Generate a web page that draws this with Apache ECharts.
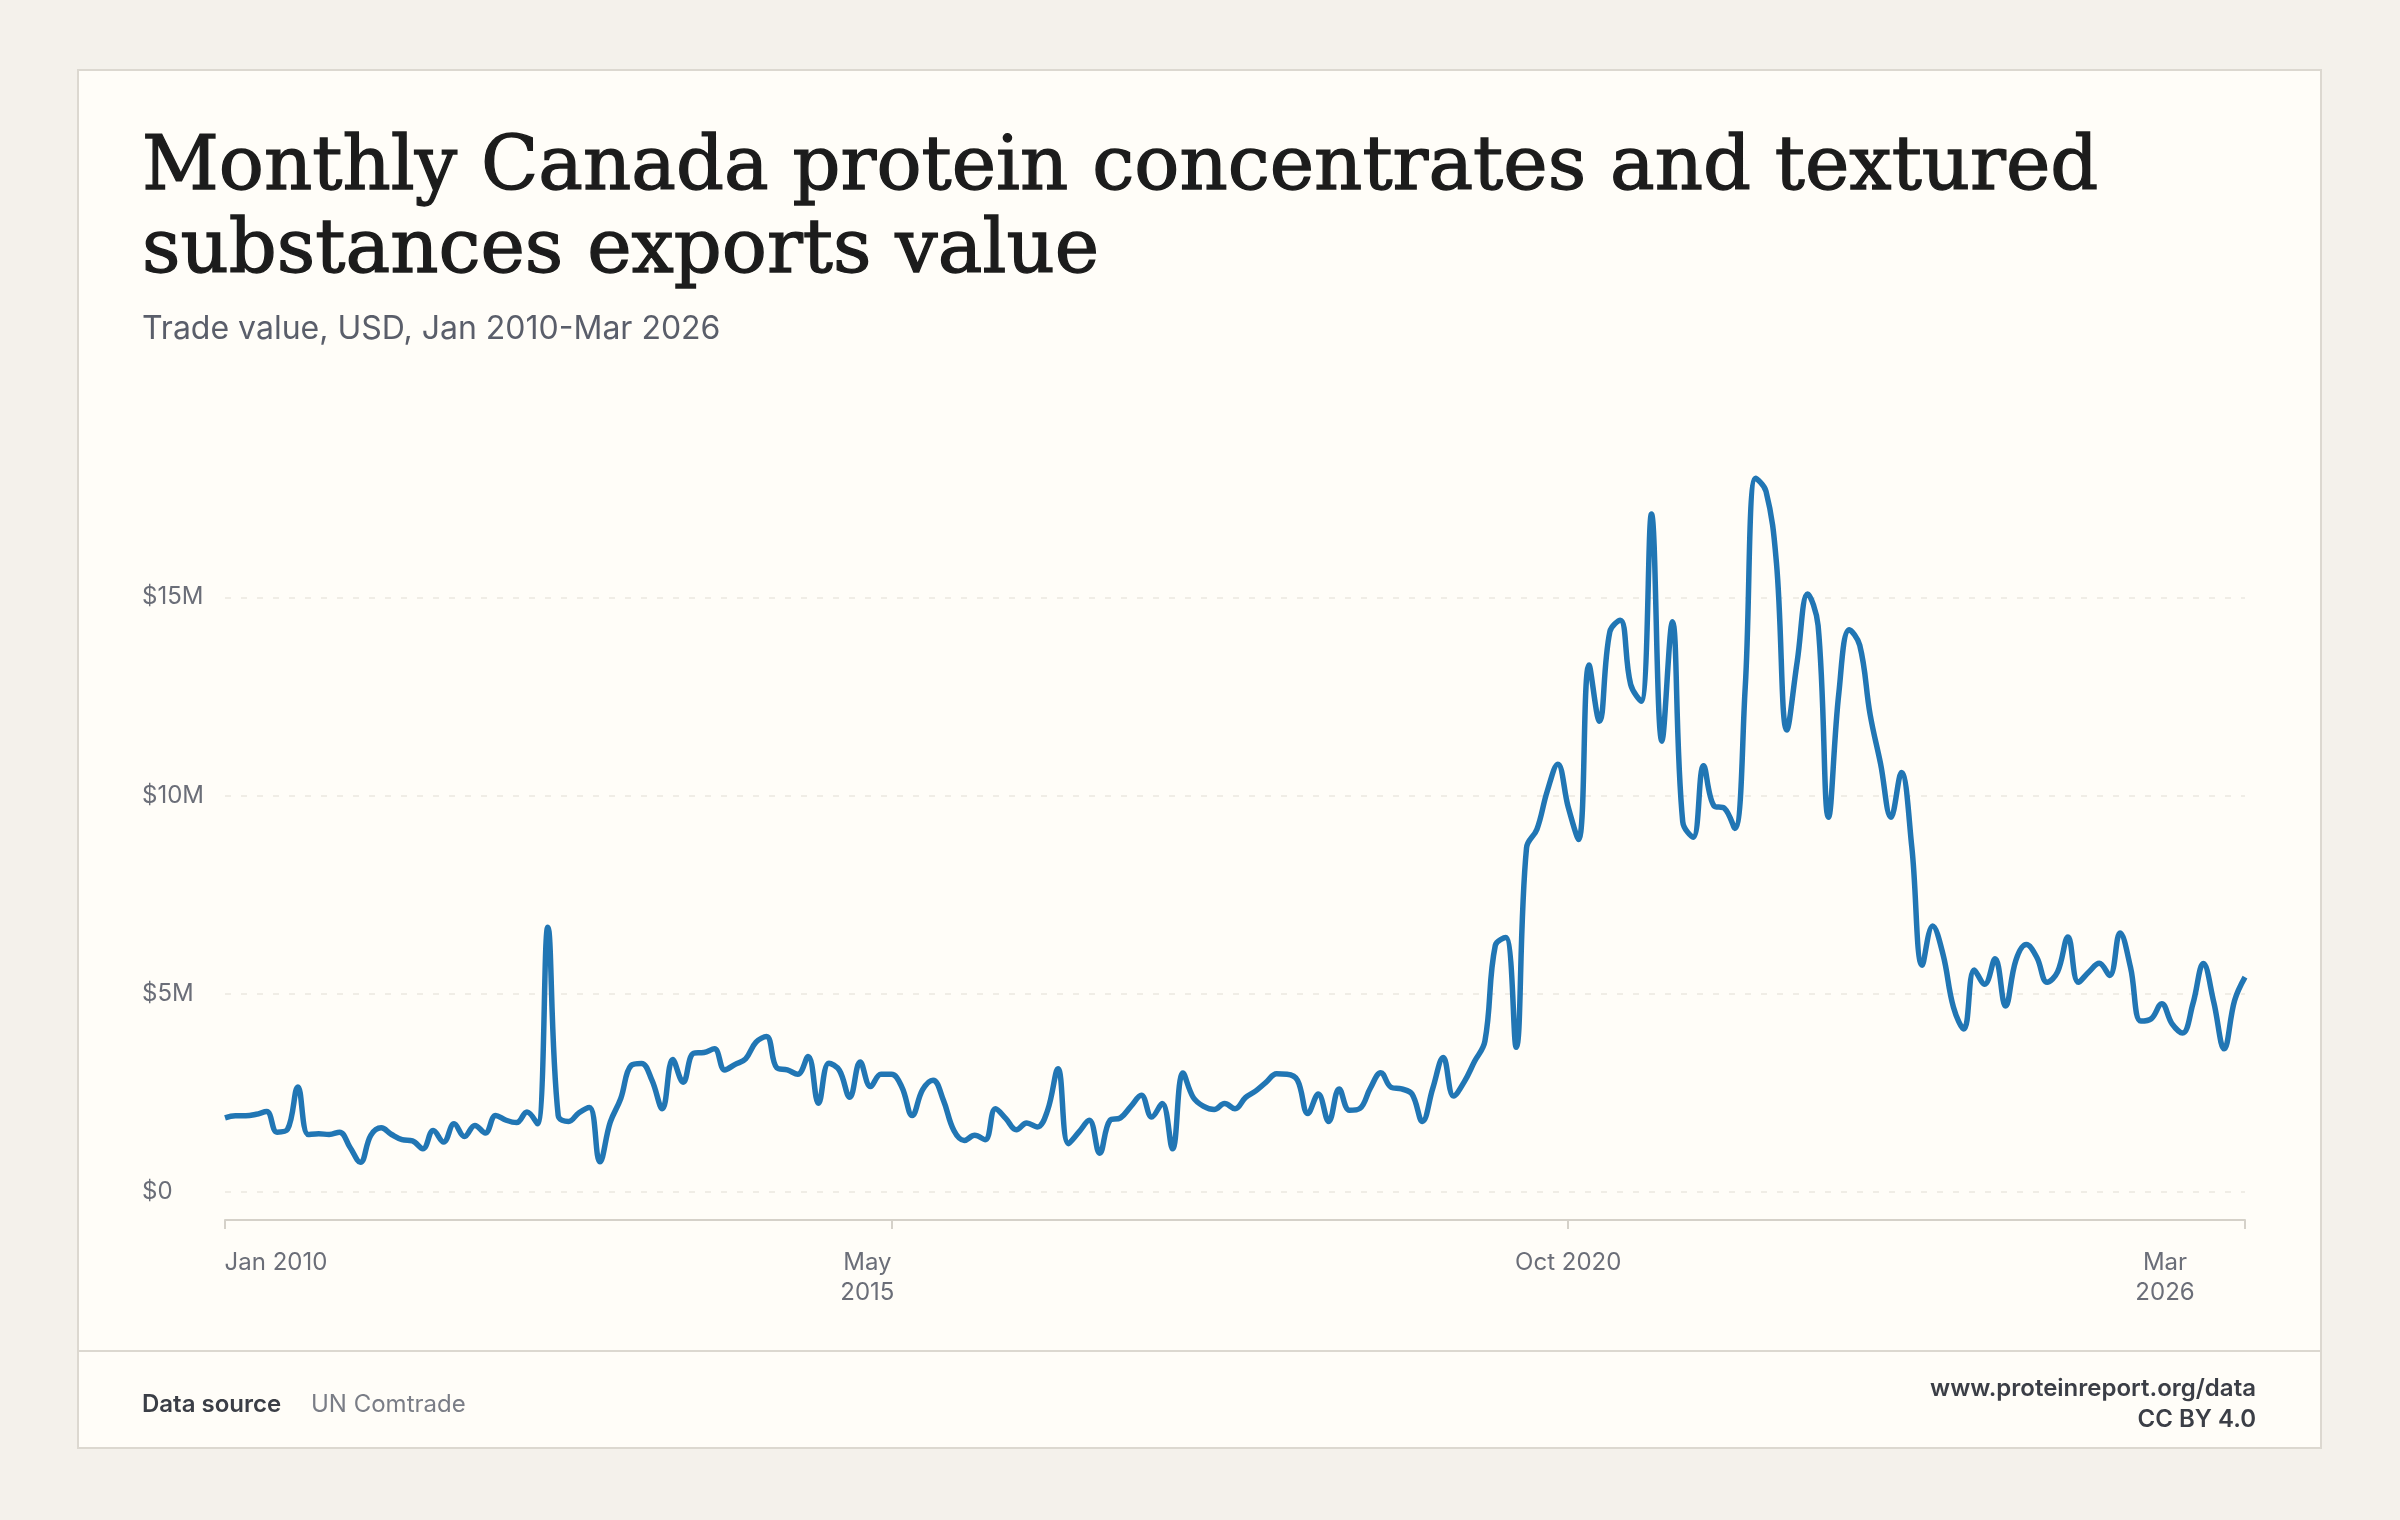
<!DOCTYPE html>
<html lang="en">
<head>
<meta charset="UTF-8">
<title>Monthly Canada protein concentrates and textured substances exports value</title>
<script src="https://cdn.jsdelivr.net/npm/echarts@6/dist/echarts.min.js"></script>
<style>
  html, body { margin: 0; padding: 0; background: #f4f1eb; }
  .card { position: absolute; left: 77px; top: 69px; width: 2245px; height: 1380px; box-sizing: border-box;
          background: #fffdf8; border: 2px solid #dcd8d0; }
  .divider { position: absolute; left: 0; right: 0; top: 1279px; border-top: 2px solid #dcd8d0; }
  #main { position: absolute; left: 0; top: 0; width: 2400px; height: 1520px; }
</style>
</head>
<body>
<div class="card"><div class="divider"></div></div>
<div id="main"></div>
<script>
// monthly trade value, $M, Jan 2010 .. Mar 2026
var values2010_2014 = [
  1.87, 1.92, 1.92, 1.96, 2.03, 1.51, 1.58, 2.65, 1.45, 1.47, 1.45, 1.51,
  1.13, 0.75, 1.43, 1.62, 1.45, 1.32, 1.29, 1.09, 1.55, 1.26, 1.72, 1.40,
  1.68, 1.49, 1.93, 1.81, 1.75, 2.02, 1.72, 6.68, 1.93, 1.78, 2.00, 2.13,
  0.76, 1.76, 2.35, 3.19, 3.24, 2.82, 2.10, 3.34, 2.77, 3.50, 3.52, 3.61,
  3.08, 3.22, 3.36, 3.78, 3.92, 3.13, 3.08, 2.97, 3.42, 2.24, 3.25, 3.07
];
var values2015_2019 = [
  2.39, 3.28, 2.66, 2.97, 2.97, 2.65, 1.93, 2.58, 2.82, 2.31, 1.55, 1.30,
  1.43, 1.32, 2.10, 1.85, 1.57, 1.74, 1.64, 2.06, 3.11, 1.22, 1.51, 1.81,
  0.98, 1.81, 1.87, 2.16, 2.44, 1.89, 2.23, 1.09, 3.00, 2.38, 2.16, 2.08,
  2.23, 2.10, 2.38, 2.55, 2.77, 2.98, 2.97, 2.82, 1.98, 2.47, 1.78, 2.60,
  2.06, 2.11, 2.62, 3.01, 2.64, 2.60, 2.47, 1.78, 2.62, 3.39, 2.42, 2.77
];
var values2020_2024 = [
  3.29, 3.80, 6.22, 6.42, 3.65, 8.68, 9.15, 10.12, 10.79, 9.71, 8.89, 13.29,
  11.87, 14.13, 14.42, 12.80, 12.38, 17.10, 11.37, 14.38, 9.34, 8.95, 10.75, 9.74,
  9.68, 9.17, 12.72, 18.00, 17.67, 15.87, 11.65, 13.39, 15.08, 14.29, 9.45, 12.60,
  14.18, 13.79, 12.04, 10.80, 9.45, 10.58, 8.70, 5.72, 6.71, 5.99, 4.66, 4.11,
  5.60, 5.24, 5.88, 4.69, 5.85, 6.24, 5.92, 5.29, 5.55, 6.43, 5.29, 5.55
];
var values2025_2026 = [
  5.77, 5.46, 6.53, 5.67, 4.31, 4.37, 4.75, 4.24, 4.01, 4.75, 5.76, 4.79,
  3.61, 4.83, 5.42
];
var values = values2010_2014.concat(values2015_2019, values2020_2024, values2025_2026);

var monthNames = ['Jan', 'Feb', 'Mar', 'Apr', 'May', 'Jun', 'Jul', 'Aug', 'Sep', 'Oct', 'Nov', 'Dec'];
var months = [];
for (var i = 0; i < values.length; i++) {
  months.push(monthNames[i % 12] + ' ' + (2010 + Math.floor(i / 12)));
}

var tickIdx = [0, 64, 129, 194];
var tickLabels = ['Jan 2010', 'May\n2015', 'Oct 2020', 'Mar\n2026'];
var tickStyles = ['a', 'b', 'c', 'd'];

var labelFont = { fontFamily: 'Inter', fontSize: 24, color: '#6b6e78', lineHeight: 30 };

var myChart = echarts.init(document.getElementById('main'));

myChart.setOption({
  title: [{
    text: 'Monthly Canada protein concentrates and textured\nsubstances exports value',
    left: 142,
    top: 128,
    padding: 0,
    textStyle: {
      fontFamily: 'DejaVu Serif', fontWeight: 'normal', fontSize: 75, lineHeight: 83, color: '#1c1c1c',
      textBorderColor: '#1c1c1c', textBorderWidth: 1.3
    }
  }, {
    text: 'Trade value, USD, Jan 2010-Mar 2026',
    left: 142,
    top: 311,
    padding: 0,
    textStyle: { fontFamily: 'Inter', fontWeight: 'normal', fontSize: 32, lineHeight: 36, color: '#5a5e6a' }
  }],
  grid: { left: 225, right: 155, top: 399, bottom: 328, outerBoundsMode: 'none' },
  xAxis: {
    type: 'category',
    data: months,
    boundaryGap: false,
    offset: 28,
    axisLine: { onZero: false, lineStyle: { color: '#d5d1c9', width: 2 } },
    axisTick: {
      interval: function (i) { return tickIdx.indexOf(i) >= 0; },
      length: 9,
      lineStyle: { color: '#d5d1c9', width: 2 }
    },
    axisLabel: {
      interval: function (i) { return tickIdx.indexOf(i) >= 0; },
      margin: 28,
      align: 'center',
      formatter: function (v, i) {
        var k = tickIdx.indexOf(i);
        if (k < 0) return '';
        return tickLabels[k].split('\n').map(function (s) {
          return '{' + tickStyles[k] + '|' + s + '}';
        }).join('\n');
      },
      rich: {
        a: Object.assign({ padding: [0, 0, 0, 102] }, labelFont),
        b: Object.assign({ padding: [0, 48, 0, 0] }, labelFont),
        c: Object.assign({}, labelFont),
        d: Object.assign({ padding: [0, 160, 0, 0] }, labelFont)
      }
    },
    splitLine: { show: false }
  },
  yAxis: {
    type: 'value',
    min: 0,
    max: 20,
    interval: 5,
    axisLine: { show: false },
    axisTick: { show: false },
    axisLabel: {
      align: 'left',
      margin: 83,
      showMaxLabel: false,
      fontFamily: 'Inter',
      fontSize: 24,
      color: '#6b6e78',
      formatter: function (v) { return v === 0 ? '$0' : '$' + v + 'M'; }
    },
    splitLine: {
      showMaxLine: false,
      lineStyle: { color: '#ebe7df', width: 1.5, type: [6, 10] }
    }
  },
  graphic: [
    { type: 'text', left: 142, top: 1393, style: { text: 'Data source', font: '600 24px Inter', fill: '#3b3e46' } },
    { type: 'text', left: 311, top: 1393, style: { text: 'UN Comtrade', font: '24px Inter', fill: '#7a7d86' } },
    { type: 'text', right: 144, top: 1377, style: { text: 'www.proteinreport.org/data', font: '600 24px Inter', fill: '#3b3e46' } },
    { type: 'text', right: 144, top: 1408, style: { text: 'CC BY 4.0', font: '600 24px Inter', fill: '#3b3e46' } }
  ],
  series: [{
    name: 'Trade value',
    type: 'line',
    data: values,
    smooth: 0.4,
    symbol: 'none',
    lineStyle: { color: '#2176b4', width: 5.5 },
    animation: false
  }]
});
</script>
</body>
</html>
